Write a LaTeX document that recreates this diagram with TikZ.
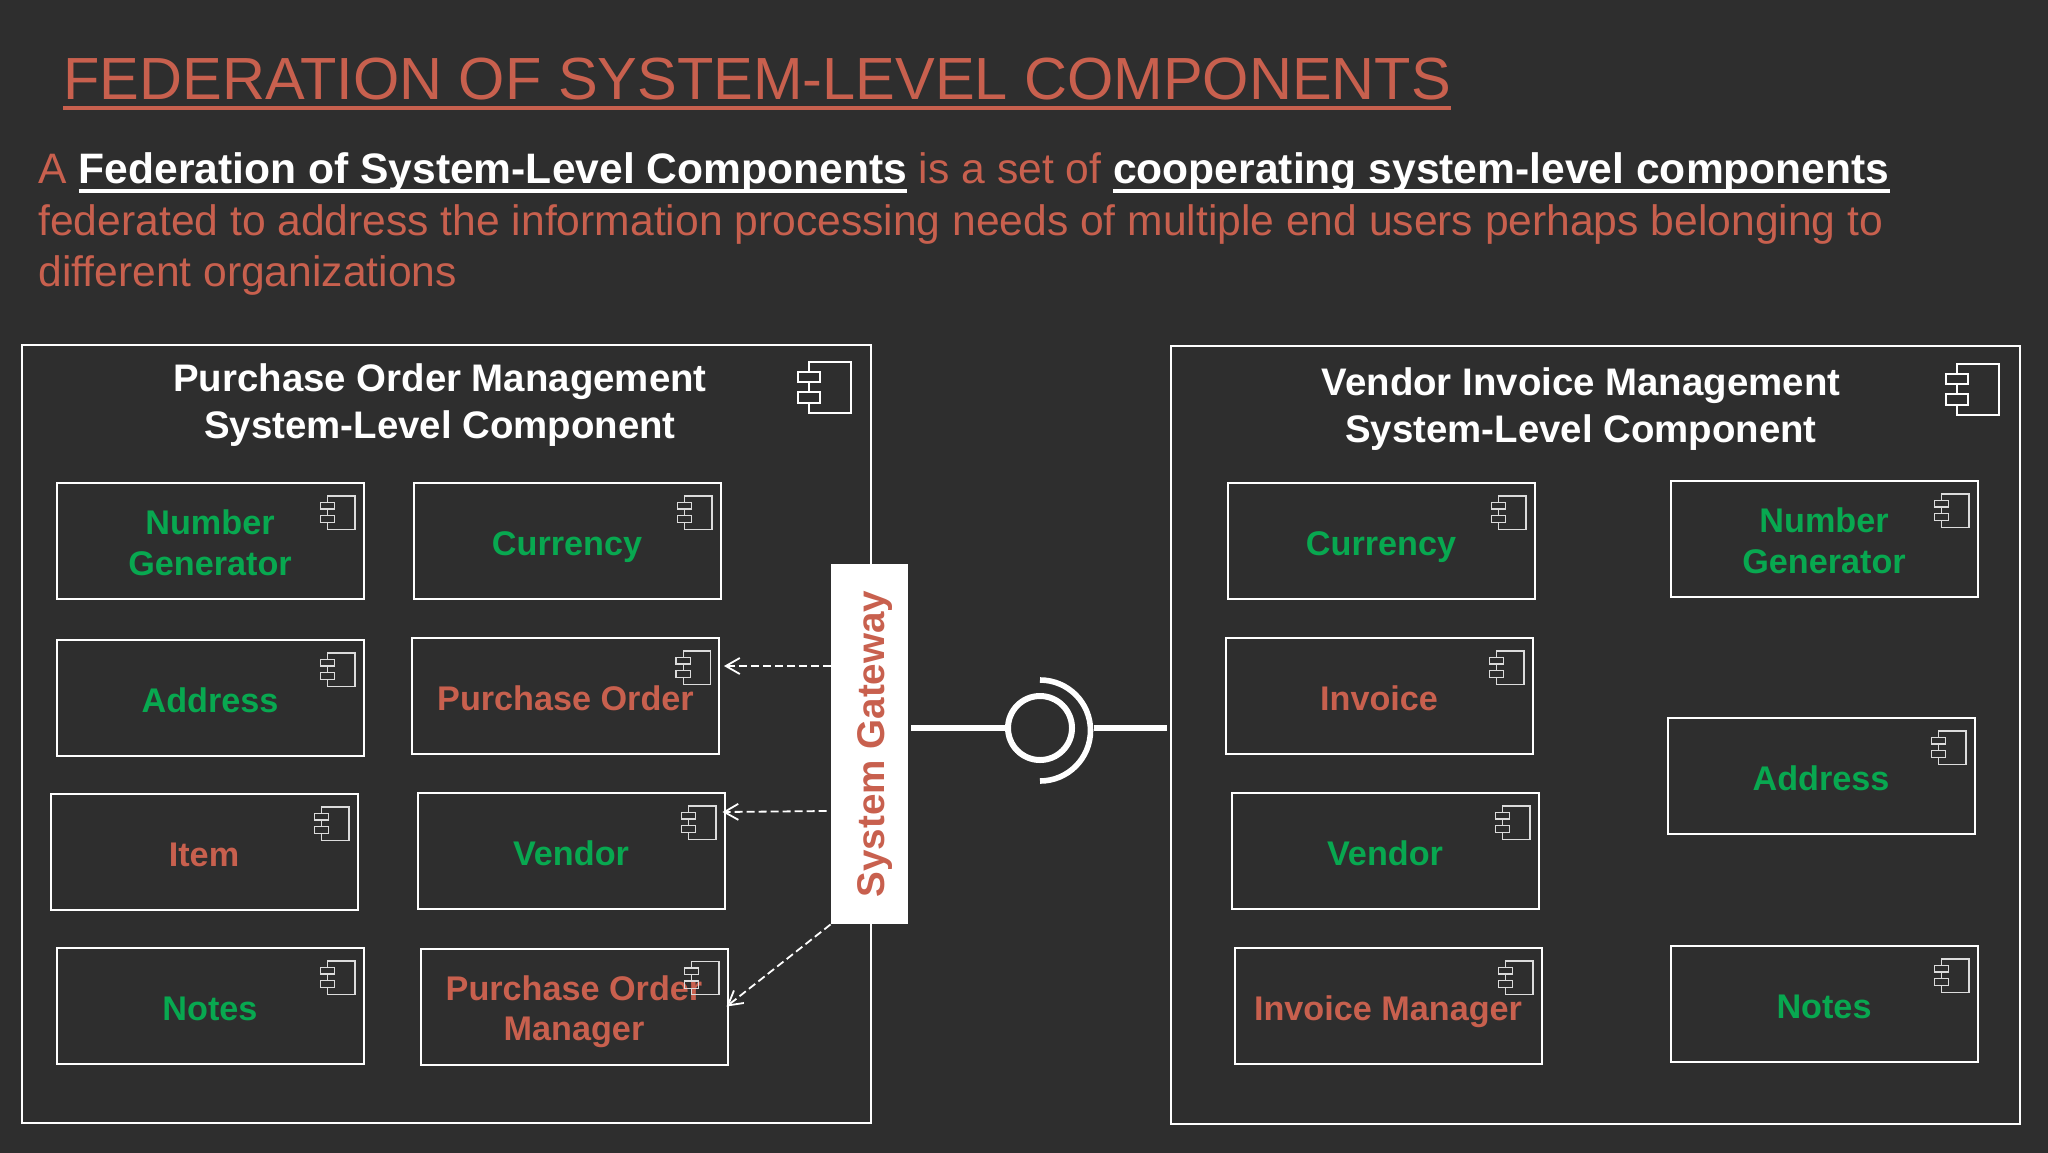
\documentclass[tikz,border=0pt]{standalone}
\usepackage{fontspec}
\setmainfont{Liberation Sans}
\usetikzlibrary{arrows.meta}
\definecolor{slate}{HTML}{2E2E2E}
\definecolor{salmon}{HTML}{C8604E}
\definecolor{leaf}{HTML}{08A850}
\definecolor{pale}{HTML}{DCDCDC}
\newcommand{\fs}[1]{\fontsize{#1}{#1}\selectfont}
\newcommand{\ul}[1]{\setbox0\hbox{#1}\rlap{\rule[-5pt]{\wd0}{2.2pt}}\box0}
\newcommand{\ult}[1]{\setbox0\hbox{#1}\rlap{\rule[-5.7pt]{\wd0}{2.3pt}}\box0}
\tikzset{
  part/.style={draw=white, line width=1pt, minimum width=153.5pt, minimum height=58pt, inner sep=0pt, text height=14.5pt, text depth=0pt, align=center, font=\fs{17.1}\bfseries},
  own/.style={part, text=salmon},
  shared/.style={part, text=leaf},
  twoline/.style={text height=34pt},
  frame/.style={draw=white, line width=1.1pt, minimum width=424.5pt, minimum height=389pt, inner sep=0pt},
  head/.style={text=white, font=\fs{19.2}\bfseries, align=center, inner sep=0pt},
  para/.style={anchor=base west, inner sep=0pt, text=salmon, font=\fs{21.3}},
  uses/.style={draw=white, line width=0.9pt, dash pattern=on 4pt off 2pt, -{Straight Barb[length=7pt,width=8pt]}},
  pics/icon/.style={code={
      \draw[line width=#1] (11,10) -- (11,0) -- (53,0) -- (53,51) -- (11,51) -- (11,41);
      \draw[line width=#1] (11,20) -- (11,30);
      \draw[line width=#1] (0,10) rectangle (22,20);
      \draw[line width=#1] (0,30) rectangle (22,41);
  }},
}
\begin{document}
\begin{tikzpicture}[x=0.5pt, y=-0.5pt]
  \useasboundingbox (0,0) rectangle (2048,1152);
  \fill[slate] (-5,-5) rectangle (2053,1157);

  % heading
  \node[anchor=base west, inner sep=0pt, text=salmon, font=\fs{29.75}] (title) at (63,99) {\ult{FEDERATION OF SYSTEM-LEVEL COMPONENTS}};
  \node[para] (line1) at (38,183) {A \textcolor{white}{\bfseries\ul{Federation of System-Level Components}} is a set of \textcolor{white}{\bfseries\ul{cooperating system-level components}}};
  \node[para] (line2) at (38,235) {federated to address the information processing needs of multiple end users perhaps belonging to};
  \node[para] (line3) at (38,286) {different organizations};

  % left component
  \node[frame] (lframe) at (446.5,734) {};
  \node[head] (lhead) at (440,405) {Purchase Order Management\\[4pt]System-Level Component};
  \pic[white] at (798,362) {icon=1pt};
  \node[shared, twoline] (lnum) at (210,541) {Number\\[3pt]Generator};
  \node[shared] (lcur) at (567,541) {Currency};
  \node[shared] (ladd) at (210,698) {Address};
  \node[own] (lpo) at (565.5,696) {Purchase Order};
  \node[own] (litem) at (204,852) {Item};
  \node[shared] (lven) at (571,851) {Vendor};
  \node[shared] (lnot) at (210,1006) {Notes};
  \node[own, twoline] (lpom) at (574,1006.5) {Purchase Order\\[3pt]Manager};

  % right component
  \node[frame] (rframe) at (1595.5,735) {};
  \node[head] (rhead) at (1581,409) {Vendor Invoice Management\\[4pt]System-Level Component};
  \pic[white] at (1946,364) {icon=1pt};
  \node[shared] (rcur) at (1381,541) {Currency};
  \node[shared, twoline] (rnum) at (1824,539) {Number\\[3pt]Generator};
  \node[own] (rinv) at (1379,696) {Invoice};
  \node[shared] (radd) at (1821,776) {Address};
  \node[shared] (rven) at (1385,851) {Vendor};
  \node[own] (rman) at (1388,1006) {Invoice Manager};
  \node[shared] (rnot) at (1824,1004) {Notes};

  % small icons
  \foreach \n in {lnum,lcur,ladd,lpo,litem,lven,lnot,lpom,rcur,rnum,rinv,radd,rven,rman,rnot}
    \pic[pale, scale=0.65] at ([xshift=-22pt,yshift=-7pt]\n.north east) {icon=0.6pt};

  % gateway
  \node[fill=white, minimum width=38.5pt, minimum height=180pt, inner sep=0pt] (gate) at (869.5,744) {};
  \node[rotate=90, text=salmon, font=\fs{19.3}\bfseries, inner sep=0pt] (gatetext) at (875,744) {System Gateway};
  \draw[uses] ([yshift=39pt]gate.west) -- ([xshift=2pt,yshift=15pt]lpo.east);
  \draw[uses] ([xshift=-2pt,yshift=-33.5pt]gate.west) -- ([xshift=-1.5pt,yshift=19.5pt]lven.east);
  \draw[uses] (gate.south west) -- ([xshift=-1pt]lpom.east);

  % interface
  \node[circle, draw=white, line width=3pt, minimum size=32pt, inner sep=0pt] (ball) at (1040,728) {};
  \coordinate (socket) at (1094,728);
  \draw[white, line width=2.8pt] (1040,680) arc[start angle=-90, end angle=90, radius=50.5];
  \draw[white, line width=3pt, shorten <=1.5pt] (gate.east |- ball) -- (ball.west);
  \draw[white, line width=3pt, shorten >=1.5pt] (socket) -- (rframe.west |- socket);
\end{tikzpicture}
\end{document}
